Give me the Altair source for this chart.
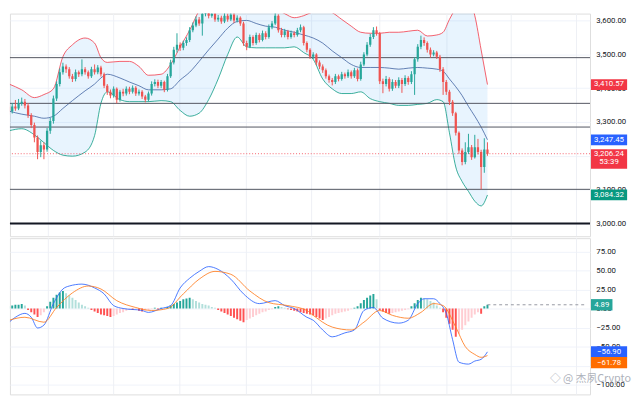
import altair as alt
import pandas as pd

# ---------------- data ----------------
first_open = 3345
close = [3332, 3346, 3340, 3355, 3360, 3349, 3320, 3291, 3254, 3211,
         3231, 3219, 3274, 3303, 3369, 3412, 3447, 3464, 3456, 3435,
         3427, 3447, 3441, 3456, 3447, 3435, 3456, 3447, 3461, 3441,
         3407, 3389, 3378, 3398, 3366, 3389, 3384, 3398, 3389, 3401,
         3384, 3389, 3375, 3366, 3384, 3412, 3418, 3407, 3418, 3395,
         3435, 3476, 3513, 3528, 3519, 3533, 3542, 3571, 3585, 3603,
         3591, 3620, 3629, 3614, 3620, 3603, 3608, 3597, 3614, 3603,
         3617, 3600, 3608, 3591, 3533, 3522, 3551, 3533, 3557, 3542,
         3562, 3551, 3580, 3591, 3614, 3571, 3557, 3568, 3551, 3562,
         3557, 3571, 3580, 3533, 3513, 3493, 3499, 3476, 3464, 3453,
         3435, 3424, 3418, 3435, 3427, 3441, 3435, 3447, 3435, 3453,
         3427, 3470, 3499, 3528, 3551, 3571, 3562, 3420, 3412, 3427,
         3398, 3418, 3407, 3424, 3412, 3430, 3418, 3441, 3485, 3522,
         3542, 3533, 3513, 3499, 3505, 3493, 3456, 3418, 3389, 3360,
         3326, 3268, 3216, 3182, 3211, 3225, 3196, 3225, 3211, 3167,
         3219, 3206.24]
high = [3352, 3356, 3365, 3368, 3372, 3368, 3356, 3326, 3298, 3260,
        3245, 3240, 3282, 3312, 3378, 3420, 3458, 3475, 3470, 3462,
        3442, 3455, 3452, 3485, 3462, 3452, 3463, 3470, 3468, 3466,
        3446, 3412, 3396, 3405, 3402, 3395, 3398, 3405, 3404, 3408,
        3406, 3396, 3394, 3380, 3390, 3420, 3426, 3425, 3424, 3422,
        3442, 3484, 3522, 3562, 3535, 3540, 3550, 3580, 3594, 3612,
        3610, 3643, 3640, 3635, 3630, 3626, 3616, 3614, 3622, 3620,
        3625, 3622, 3615, 3612, 3596, 3540, 3558, 3556, 3564, 3562,
        3570, 3568, 3588, 3598, 3643, 3618, 3578, 3575, 3572, 3570,
        3568, 3578, 3588, 3584, 3538, 3518, 3506, 3503, 3482, 3470,
        3458, 3440, 3430, 3442, 3440, 3448, 3446, 3455, 3452, 3460,
        3458, 3478, 3506, 3536, 3560, 3580, 3582, 3566, 3428, 3436,
        3432, 3426, 3424, 3432, 3430, 3438, 3435, 3450, 3492, 3530,
        3555, 3550, 3538, 3520, 3512, 3510, 3498, 3462, 3424, 3395,
        3365, 3330, 3272, 3222, 3240, 3265, 3232, 3262, 3250, 3218,
        3252, 3240]
low = [3322, 3325, 3333, 3335, 3348, 3340, 3312, 3282, 3240, 3190,
       3196, 3190, 3212, 3265, 3295, 3362, 3405, 3440, 3445, 3428,
       3418, 3420, 3433, 3435, 3440, 3428, 3430, 3440, 3441, 3434,
       3400, 3380, 3370, 3372, 3355, 3360, 3376, 3378, 3382, 3384,
       3377, 3378, 3368, 3358, 3360, 3378, 3405, 3400, 3400, 3388,
       3390, 3430, 3470, 3505, 3510, 3512, 3525, 3536, 3565, 3580,
       3584, 3555, 3612, 3606, 3608, 3596, 3596, 3590, 3592, 3596,
       3598, 3592, 3594, 3584, 3525, 3512, 3518, 3526, 3528, 3535,
       3538, 3544, 3546, 3574, 3586, 3564, 3550, 3550, 3544, 3546,
       3550, 3552, 3565, 3526, 3506, 3486, 3486, 3468, 3456, 3445,
       3428, 3416, 3408, 3412, 3420, 3422, 3428, 3430, 3428, 3430,
       3420, 3422, 3465, 3494, 3522, 3545, 3555, 3412, 3385, 3405,
       3390, 3392, 3400, 3400, 3386, 3406, 3410, 3412, 3380, 3478,
       3515, 3525, 3505, 3490, 3494, 3486, 3448, 3380, 3380, 3350,
       3318, 3260, 3205, 3172, 3175, 3205, 3188, 3192, 3204, 3101,
       3150, 3200]

bb_idx = [0, 4, 8, 11, 14, 17, 20, 24, 27, 29, 31, 35, 38, 41, 44, 48, 51, 54, 57, 60,
          63, 66, 69, 72, 75, 78, 81, 84, 87, 90, 93, 96, 99, 102, 105, 108, 111, 114, 117, 120,
          123, 126, 129, 132, 135, 137, 139, 141, 143, 145, 147, 149, 151]
bb_upper = [3412, 3395, 3372, 3381, 3398, 3493, 3528, 3548, 3533, 3490,
            3476, 3479, 3479, 3464, 3438, 3441, 3470, 3522, 3571, 3629,
            3666, 3678, 3678, 3672, 3666, 3658, 3649, 3634, 3620, 3608,
            3614, 3626, 3634, 3623, 3603, 3583, 3565, 3562, 3562, 3565,
            3565, 3568, 3571, 3554, 3557, 3565, 3603, 3637, 3666, 3666,
            3614, 3513, 3410.57]
bb_mid = [3332, 3323, 3317, 3311, 3317, 3340, 3363, 3392, 3412, 3430,
          3441, 3430, 3418, 3407, 3395, 3395, 3398, 3424, 3447, 3479,
          3513, 3545, 3577, 3597, 3600, 3591, 3583, 3580, 3571, 3565,
          3557, 3548, 3533, 3510, 3490, 3470, 3461, 3461, 3461, 3459,
          3456, 3459, 3461, 3459, 3456, 3450, 3427, 3404, 3378, 3346,
          3317, 3285, 3247.45]
bb_lower = [3274, 3280, 3262, 3239, 3216, 3202, 3199, 3211, 3260, 3355,
            3389, 3366, 3360, 3360, 3360, 3363, 3360, 3334, 3317, 3326,
            3366, 3427, 3499, 3551, 3522, 3519, 3519, 3519, 3519, 3522,
            3505, 3485, 3427, 3398, 3384, 3384, 3389, 3369, 3360, 3355,
            3349, 3349, 3352, 3355, 3366, 3360, 3268, 3167, 3124, 3095,
            3066, 3052, 3084.32]

macd_idx = [0, 2, 5, 7, 9, 11, 14, 17, 19, 23, 27, 30, 33, 36, 42, 44, 48, 51, 54, 57,
            60, 63, 66, 70, 74, 79, 84, 87, 90, 94, 96, 99, 102, 106, 109, 112, 115, 118, 123, 126,
            129, 131, 134, 136, 138, 140, 142, 145, 147, 149, 151]
macd_vals = [-18, -11.5, -6.4, -11.5, -25.6, -21.8, 6.4, 25.6, 29.5, 32,
             27, 19.2, 3.8, 0, -2.6, -5.1, 0, 3.8, 27, 39.7,
             48.7, 55, 51.3, 38.5, 19.2, 6.4, 10.3, 3.8, 0, -11.5,
             -15.4, -28.2, -37.2, -32, -28.2, -2.6, 1.3, -12.8, -19.2, -15.4,
             6.4, 12.8, 12.8, 6.4, -6.4, -41, -70.5, -73, -69, -66.7,
             -56.90]
signal_idx = [0, 5, 11, 15, 20, 25, 29, 34, 40, 45, 50, 55, 60, 65, 70, 76, 82, 88, 94, 96,
              102, 108, 112, 117, 121, 126, 130, 134, 137, 141, 144, 147, 149, 151]
signal_vals = [-15.4, -11.5, -18, 1.3, 20.5, 29.5, 25.6, 10.3, 1.3, -2.6,
               0, 19.2, 38.5, 48.7, 44.9, 23, 7.7, 3.8, -2.6, -9,
               -24.4, -28.2, -18, -2.6, -9, -12.8, -5.1, 6.4, 3.8, -24.4,
               -50, -60.3, -64.1, -61.78]
hist_vals = [3, 4, 5, 5, 6, 4,
             -2, -5, -8, -11, -9, -5,
             3, 9, 14, 18, 21, 23,
             20, 17, 14, 11, 8, 5, 3, 1,
             -2, -4, -6, -8, -9, -10, -11, -10, -8,
             -6, -5, -3, -2, -2, -1,
             -3, -4, -3, -2,
             -1, 1, -1, 1, 0.5,
             2, 4, 6, 8, 10, 12, 13, 14,
             12, 10, 8, 6, 5, 4, 2, 1,
             -2, -4, -6, -8, -10, -12, -14, -16, -18,
             -15, -13, -11, -9, -7, -5, -4, -2, -1,
             2, 3, 2, 1,
             -1, -2, -3, -4, -5, -6, -7, -8, -9,
             -11, -13, -15,
             -13, -11, -9, -7, -6, -5, -4, -3,
             -1, 1, 3,
             7, 11, 14, 17, 19,
             12,
             -2, -4, -6, -7,
             -6, -5, -4, -3, -2, -1,
             3, 7, 11, 14,
             13, 12, 10, 8, 4,
             1,
             -5, -12, -20, -28, -37,
             -33, -28, -22, -17, -12, -8, -5,
             -7,
             3,
             4.89]

levels = [3490, 3355, 3285, 3101]
base_level = 3000
last_price = 3206.24
countdown = "53:39"
price_badges = [3410.57, 3247.45, 3206.24, 3084.32]
price_badge_colors = ["#f23645", "#2962ff", "#f23645", "#089981"]
macd_badges = [4.89, -56.90, -61.78]
macd_badge_colors = ["#26a69a", "#2962ff", "#ff6d00"]
price_ticks = [3000, 3100, 3200, 3300, 3400, 3500, 3600]
macd_ticks = [-100, -75, -50, -25, 0, 25, 50, 75]
vgrid = [12.4, 33.0, 53.9, 74.9, 95.5, 117.0, 138.2, 158.5, 179.1]
watermark = "\u25c7 @ \u6770\u5919Crypto"

# ---------------- layout / style ----------------
UP, DOWN = "#26a69a", "#ef5350"
W, H1, H2 = 594, 228, 160
X_DOM = [1.8242, 181.8242]
P_DOM = [2962.5, 3620.2]
M_DOM = [-112.8, 92.31]
K1 = H1 / (P_DOM[1] - P_DOM[0])
K2 = H2 / (M_DOM[1] - M_DOM[0])
FONT = "Roboto"

xs = alt.Scale(domain=X_DOM, nice=False, zero=False)
ps = alt.Scale(domain=P_DOM, nice=False, zero=False)
ms = alt.Scale(domain=M_DOM, nice=False, zero=False)


def ax(vals):
    return alt.Axis(orient="right", values=vals, format=",.2f", grid=True,
                    gridColor="#f0f3fa", domain=False, ticks=False, labelPadding=6,
                    labelFontSize=8, labelColor="#131722", labelFont=FONT,
                    labelOverlap=False, labelBound=False,
                    minExtent=38, maxExtent=38, title=None)


PAX = ax(price_ticks)
MAX = ax(macd_ticks)


def X(f):
    return alt.X(f, type="quantitative", scale=xs, axis=None)


def YP(f):
    return alt.Y(f, type="quantitative", scale=ps, axis=PAX)


def YM(f):
    return alt.Y(f, type="quantitative", scale=ms, axis=MAX)


n = len(close)
opens = [first_open] + close[:-1]
cdf = pd.DataFrame({"i": list(range(n)), "open": opens, "close": close,
                    "high": high, "low": low})
cdf["color"] = [UP if c >= o else DOWN for o, c in zip(opens, close)]

bb = pd.DataFrame({"i": bb_idx, "up": bb_upper, "mid": bb_mid, "lo": bb_lower})
gdf = pd.DataFrame({"g": vgrid})

# ---------- price pane ----------
grid_p = alt.Chart(gdf).mark_rule(color="#eef0f5", strokeWidth=1).encode(x=X("g"))
area = alt.Chart(bb).mark_area(interpolate="monotone", color="#2196f3", opacity=0.1,
                               clip=True).encode(x=X("i"), y=YP("up"), y2="lo")
l_up = alt.Chart(bb).mark_line(interpolate="monotone", color="#f23645", strokeWidth=1,
                               opacity=0.8, clip=True).encode(x=X("i"), y=YP("up"))
l_mid = alt.Chart(bb).mark_line(interpolate="monotone", color="#3d5f9e", strokeWidth=1,
                                opacity=0.8, clip=True).encode(x=X("i"), y=YP("mid"))
l_lo = alt.Chart(bb).mark_line(interpolate="monotone", color="#089981", strokeWidth=1,
                               opacity=0.8, clip=True).encode(x=X("i"), y=YP("lo"))
lv = alt.Chart(pd.DataFrame({"v": levels})).mark_rule(
    color="#50535e", strokeWidth=1).encode(y=YP("v"))
base = alt.Chart(pd.DataFrame({"v": [base_level]})).mark_rule(
    color="#131722", strokeWidth=2).encode(y=YP("v"))
cur = alt.Chart(pd.DataFrame({"v": [last_price]})).mark_rule(
    color="#f23645", strokeWidth=1, strokeDash=[1, 2], opacity=0.8).encode(y=YP("v"))
wicks = alt.Chart(cdf).mark_rule(strokeWidth=1, clip=True).encode(
    x=X("i"), y=YP("low"), y2="high", color=alt.Color("color:N", scale=None))
bodies = alt.Chart(cdf).mark_bar(size=2.3, clip=True).encode(
    x=X("i"), y=YP("open"), y2="close", color=alt.Color("color:N", scale=None))

pb = pd.DataFrame({"v": price_badges, "color": price_badge_colors})
pb["label"] = [f"{v:,.2f}" for v in price_badges]
pb["top"] = [v + (4.5 if v == last_price else 5.5) / K1 for v in price_badges]
pb["bot"] = [v - (15.5 if v == last_price else 5.5) / K1 for v in price_badges]
pbox = alt.Chart(pb).mark_rect(clip=False).encode(
    x=alt.value(595), x2=alt.value(632), y=YP("top"), y2="bot",
    color=alt.Color("color:N", scale=None))
ptxt = alt.Chart(pb).mark_text(clip=False, color="white", fontSize=8, font=FONT,
                               align="center", baseline="middle").encode(
    x=alt.value(613.5), y=YP("v"), text="label:N")
cd = alt.Chart(pd.DataFrame({"v": [last_price], "t": [countdown]})).mark_text(
    clip=False, color="white", fontSize=8, font=FONT, align="center",
    baseline="middle", dy=9).encode(x=alt.value(613.5), y=YP("v"), text="t:N")

price = alt.layer(grid_p, area, l_up, l_mid, l_lo, lv, base, cur, wicks, bodies,
                  pbox, ptxt, cd).properties(width=W, height=H1)

# ---------- MACD pane ----------
hcol = []
for k, h in enumerate(hist_vals):
    prev = hist_vals[k - 1] if k > 0 else h
    if h >= 0:
        hcol.append("#26a69a" if h >= prev else "#b2dfdb")
    else:
        hcol.append("#ff5252" if h <= prev else "#ffcdd2")
hdf = pd.DataFrame({"i": list(range(len(hist_vals))), "h": hist_vals, "color": hcol})
mdf = pd.DataFrame({"i": macd_idx, "m": macd_vals})
sdf = pd.DataFrame({"i": signal_idx, "s": signal_vals})

grid_m = alt.Chart(gdf).mark_rule(color="#eef0f5", strokeWidth=1).encode(x=X("g"))
hbars = alt.Chart(hdf).mark_bar(size=2, clip=True).encode(
    x=X("i"), y=YM("h"), y2=alt.datum(0), color=alt.Color("color:N", scale=None))
mline = alt.Chart(mdf).mark_line(interpolate="monotone", color="#2962ff",
                                 strokeWidth=1, opacity=0.85, clip=True).encode(x=X("i"), y=YM("m"))
sline = alt.Chart(sdf).mark_line(interpolate="monotone", color="#ff7a1a",
                                 strokeWidth=1, opacity=0.85, clip=True).encode(x=X("i"), y=YM("s"))
lastline = alt.Chart(pd.DataFrame({"a": [n - 1], "b": [X_DOM[1]], "v": [hist_vals[-1]]})).mark_rule(
    color="#9598a1", strokeDash=[3, 3], strokeWidth=1).encode(x=X("a"), x2="b", y=YM("v"))

shift_px = [0, 0, 7.3]
mb = pd.DataFrame({"v": macd_badges, "color": macd_badge_colors})
mb["label"] = [f"{v:.2f}".replace("-", "\u2212") for v in macd_badges]
mb["c"] = [v - s / K2 for v, s in zip(macd_badges, shift_px)]
mb["top"] = mb["c"] + 5.8 / K2
mb["bot"] = mb["c"] - 5.8 / K2
mbox_small = alt.Chart(mb[mb.v > 0]).mark_rect(clip=False).encode(
    x=alt.value(595), x2=alt.value(617), y=YM("top"), y2="bot",
    color=alt.Color("color:N", scale=None))
mbox_big = alt.Chart(mb[mb.v <= 0]).mark_rect(clip=False).encode(
    x=alt.value(595), x2=alt.value(632), y=YM("top"), y2="bot",
    color=alt.Color("color:N", scale=None))
mtxt_small = alt.Chart(mb[mb.v > 0]).mark_text(
    clip=False, color="white", fontSize=8, font=FONT, align="center",
    baseline="middle").encode(x=alt.value(606), y=YM("c"), text="label:N")
mtxt_big = alt.Chart(mb[mb.v <= 0]).mark_text(
    clip=False, color="white", fontSize=8, font=FONT, align="center",
    baseline="middle").encode(x=alt.value(613.5), y=YM("c"), text="label:N")
wm = alt.Chart(pd.DataFrame({"t": [watermark]})).mark_text(
    clip=False, color="#9aa0ab", opacity=0.8, fontSize=11, font="Noto Sans CJK SC",
    align="left", baseline="middle").encode(x=alt.value(553), y=alt.value(144), text="t:N")

macd = alt.layer(grid_m, hbars, lastline, mline, sline, mbox_small, mbox_big,
                 mtxt_small, mtxt_big, wm).properties(width=W, height=H2)

chart = alt.vconcat(price, macd, spacing=0).properties(
    padding=0, background="white"
).configure_view(strokeWidth=0).configure(font=FONT)

chart.save("out.html", embed_options={"renderer": "svg", "actions": False})
